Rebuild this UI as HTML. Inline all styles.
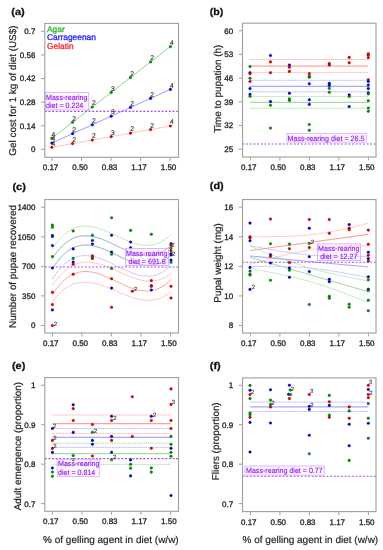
<!DOCTYPE html><html><head><meta charset="utf-8"><style>html,body{margin:0;padding:0;background:#fff;}svg{display:block;will-change:transform;text-rendering:geometricPrecision;}</style></head><body>
<svg width="383" height="550" viewBox="0 0 383 550" font-family='"Liberation Sans", sans-serif'>
<rect width="383" height="550" fill="#fff"/>
<line x1="51.90" y1="138.30" x2="170.40" y2="46.60" stroke="#80d480" stroke-width="0.90"/>
<line x1="51.90" y1="143.00" x2="170.40" y2="89.40" stroke="#9292ff" stroke-width="0.90"/>
<line x1="51.90" y1="147.30" x2="170.40" y2="126.00" stroke="#ff9292" stroke-width="0.90" stroke-dasharray="1.0,0.6"/>
<line x1="44.80" y1="111.40" x2="178.50" y2="111.40" stroke="#a845f2" stroke-width="1.10" stroke-dasharray="1.9,1.75"/>
<circle cx="51.90" cy="138.30" r="1.32" fill="#009400" stroke="#004a00" stroke-width="0.35"/>
<circle cx="72.60" cy="122.28" r="1.32" fill="#009400" stroke="#004a00" stroke-width="0.35"/>
<circle cx="92.30" cy="107.04" r="1.32" fill="#009400" stroke="#004a00" stroke-width="0.35"/>
<circle cx="111.20" cy="92.41" r="1.32" fill="#009400" stroke="#004a00" stroke-width="0.35"/>
<circle cx="130.50" cy="77.48" r="1.32" fill="#009400" stroke="#004a00" stroke-width="0.35"/>
<circle cx="150.60" cy="61.92" r="1.32" fill="#009400" stroke="#004a00" stroke-width="0.35"/>
<circle cx="170.40" cy="46.60" r="1.32" fill="#009400" stroke="#004a00" stroke-width="0.35"/>
<circle cx="51.90" cy="143.00" r="1.32" fill="#0000e8" stroke="#00006a" stroke-width="0.35"/>
<circle cx="72.60" cy="133.64" r="1.32" fill="#0000e8" stroke="#00006a" stroke-width="0.35"/>
<circle cx="92.30" cy="124.73" r="1.32" fill="#0000e8" stroke="#00006a" stroke-width="0.35"/>
<circle cx="111.20" cy="116.18" r="1.32" fill="#0000e8" stroke="#00006a" stroke-width="0.35"/>
<circle cx="130.50" cy="107.45" r="1.32" fill="#0000e8" stroke="#00006a" stroke-width="0.35"/>
<circle cx="150.60" cy="98.36" r="1.32" fill="#0000e8" stroke="#00006a" stroke-width="0.35"/>
<circle cx="170.40" cy="89.40" r="1.32" fill="#0000e8" stroke="#00006a" stroke-width="0.35"/>
<circle cx="51.90" cy="147.30" r="1.32" fill="#e60000" stroke="#6a0000" stroke-width="0.35"/>
<circle cx="72.60" cy="143.58" r="1.32" fill="#e60000" stroke="#6a0000" stroke-width="0.35"/>
<circle cx="92.30" cy="140.04" r="1.32" fill="#e60000" stroke="#6a0000" stroke-width="0.35"/>
<circle cx="111.20" cy="136.64" r="1.32" fill="#e60000" stroke="#6a0000" stroke-width="0.35"/>
<circle cx="130.50" cy="133.17" r="1.32" fill="#e60000" stroke="#6a0000" stroke-width="0.35"/>
<circle cx="150.60" cy="129.56" r="1.32" fill="#e60000" stroke="#6a0000" stroke-width="0.35"/>
<circle cx="170.40" cy="126.00" r="1.32" fill="#e60000" stroke="#6a0000" stroke-width="0.35"/>
<text x="53.50" y="136.60" font-size="6.8" text-anchor="middle" fill="#2e2e2e" stroke="#2e2e2e" stroke-width="0.12">4</text>
<text x="74.20" y="120.58" font-size="6.8" text-anchor="middle" fill="#2e2e2e" stroke="#2e2e2e" stroke-width="0.12">2</text>
<text x="93.90" y="105.34" font-size="6.8" text-anchor="middle" fill="#2e2e2e" stroke="#2e2e2e" stroke-width="0.12">2</text>
<text x="112.80" y="90.71" font-size="6.8" text-anchor="middle" fill="#2e2e2e" stroke="#2e2e2e" stroke-width="0.12">3</text>
<text x="132.10" y="75.78" font-size="6.8" text-anchor="middle" fill="#2e2e2e" stroke="#2e2e2e" stroke-width="0.12">2</text>
<text x="152.20" y="60.22" font-size="6.8" text-anchor="middle" fill="#2e2e2e" stroke="#2e2e2e" stroke-width="0.12">2</text>
<text x="172.00" y="44.90" font-size="6.8" text-anchor="middle" fill="#2e2e2e" stroke="#2e2e2e" stroke-width="0.12">4</text>
<text x="53.50" y="141.30" font-size="6.8" text-anchor="middle" fill="#2e2e2e" stroke="#2e2e2e" stroke-width="0.12">4</text>
<text x="74.20" y="131.94" font-size="6.8" text-anchor="middle" fill="#2e2e2e" stroke="#2e2e2e" stroke-width="0.12">2</text>
<text x="93.90" y="123.03" font-size="6.8" text-anchor="middle" fill="#2e2e2e" stroke="#2e2e2e" stroke-width="0.12">2</text>
<text x="112.80" y="114.48" font-size="6.8" text-anchor="middle" fill="#2e2e2e" stroke="#2e2e2e" stroke-width="0.12">3</text>
<text x="132.10" y="105.75" font-size="6.8" text-anchor="middle" fill="#2e2e2e" stroke="#2e2e2e" stroke-width="0.12">2</text>
<text x="152.20" y="96.66" font-size="6.8" text-anchor="middle" fill="#2e2e2e" stroke="#2e2e2e" stroke-width="0.12">2</text>
<text x="172.00" y="87.70" font-size="6.8" text-anchor="middle" fill="#2e2e2e" stroke="#2e2e2e" stroke-width="0.12">4</text>
<text x="53.50" y="145.60" font-size="6.8" text-anchor="middle" fill="#2e2e2e" stroke="#2e2e2e" stroke-width="0.12">4</text>
<text x="74.20" y="141.88" font-size="6.8" text-anchor="middle" fill="#2e2e2e" stroke="#2e2e2e" stroke-width="0.12">2</text>
<text x="93.90" y="138.34" font-size="6.8" text-anchor="middle" fill="#2e2e2e" stroke="#2e2e2e" stroke-width="0.12">2</text>
<text x="112.80" y="134.94" font-size="6.8" text-anchor="middle" fill="#2e2e2e" stroke="#2e2e2e" stroke-width="0.12">3</text>
<text x="132.10" y="131.47" font-size="6.8" text-anchor="middle" fill="#2e2e2e" stroke="#2e2e2e" stroke-width="0.12">2</text>
<text x="152.20" y="127.86" font-size="6.8" text-anchor="middle" fill="#2e2e2e" stroke="#2e2e2e" stroke-width="0.12">2</text>
<text x="172.00" y="124.30" font-size="6.8" text-anchor="middle" fill="#2e2e2e" stroke="#2e2e2e" stroke-width="0.12">4</text>
<rect x="45.3" y="92.4" width="43.4" height="17.5" fill="#f2e2ff" fill-opacity="0.25" stroke="#d4a8ff" stroke-width="0.8"/>
<text x="46.0" y="99.7" font-size="7.6" text-anchor="start" fill="#a020f0" stroke="#a020f0" stroke-width="0.18" textLength="41.43" lengthAdjust="spacingAndGlyphs">Mass-rearing</text>
<text x="46.0" y="108.3" font-size="7.6" text-anchor="start" fill="#a020f0" stroke="#a020f0" stroke-width="0.18" textLength="37.30" lengthAdjust="spacingAndGlyphs">diet = 0.224</text>
<text x="47.0" y="31.9" font-size="8.4" fill="#2fb52f" stroke="#2fb52f" stroke-width="0.3">Agar</text>
<text x="47.0" y="40.3" font-size="8.4" fill="#2424f4" stroke="#2424f4" stroke-width="0.3">Carrageenan</text>
<text x="47.0" y="48.8" font-size="8.4" fill="#f42c2c" stroke="#f42c2c" stroke-width="0.3">Gelatin</text>
<line x1="250.00" y1="59.50" x2="368.30" y2="59.50" stroke="#ffa8a8" stroke-width="0.90" stroke-dasharray="1.2,0.6"/>
<line x1="250.00" y1="66.10" x2="368.30" y2="66.10" stroke="#ffa2a2" stroke-width="1.25"/>
<line x1="250.00" y1="72.40" x2="368.30" y2="72.40" stroke="#ffa8a8" stroke-width="0.90" stroke-dasharray="1.2,0.6"/>
<line x1="250.00" y1="80.30" x2="368.30" y2="80.30" stroke="#acacff" stroke-width="0.90" stroke-dasharray="1.2,0.6"/>
<line x1="250.00" y1="86.30" x2="368.30" y2="86.30" stroke="#a8a8ff" stroke-width="1.25"/>
<line x1="250.00" y1="91.80" x2="368.30" y2="91.80" stroke="#acacff" stroke-width="0.90" stroke-dasharray="1.2,0.6"/>
<line x1="250.00" y1="96.40" x2="368.30" y2="96.40" stroke="#9fdc9f" stroke-width="0.90" stroke-dasharray="1.2,0.6"/>
<line x1="250.00" y1="102.30" x2="368.30" y2="102.30" stroke="#a2dda2" stroke-width="1.25"/>
<line x1="250.00" y1="108.30" x2="368.30" y2="108.30" stroke="#9fdc9f" stroke-width="0.90" stroke-dasharray="1.2,0.6"/>
<line x1="242.50" y1="144.00" x2="376.00" y2="144.00" stroke="#a845f2" stroke-width="1.10" stroke-dasharray="1.9,1.75"/>
<circle cx="250.00" cy="66.50" r="1.32" fill="#009400" stroke="#004a00" stroke-width="0.35"/>
<circle cx="250.00" cy="72.70" r="1.32" fill="#0000e8" stroke="#00006a" stroke-width="0.35"/>
<circle cx="250.00" cy="73.80" r="1.32" fill="#e60000" stroke="#6a0000" stroke-width="0.35"/>
<circle cx="250.00" cy="78.20" r="1.32" fill="#009400" stroke="#004a00" stroke-width="0.35"/>
<circle cx="250.00" cy="81.50" r="1.32" fill="#e60000" stroke="#6a0000" stroke-width="0.35"/>
<circle cx="250.00" cy="88.60" r="1.32" fill="#0000e8" stroke="#00006a" stroke-width="0.35"/>
<circle cx="250.00" cy="94.40" r="1.32" fill="#0000e8" stroke="#00006a" stroke-width="0.35"/>
<circle cx="250.00" cy="96.30" r="1.32" fill="#009400" stroke="#004a00" stroke-width="0.35"/>
<circle cx="270.50" cy="55.50" r="1.32" fill="#0000e8" stroke="#00006a" stroke-width="0.35"/>
<circle cx="270.50" cy="61.90" r="1.32" fill="#e60000" stroke="#6a0000" stroke-width="0.35"/>
<circle cx="270.50" cy="72.70" r="1.32" fill="#e60000" stroke="#6a0000" stroke-width="0.35"/>
<circle cx="270.50" cy="101.60" r="1.32" fill="#0000e8" stroke="#00006a" stroke-width="0.35"/>
<circle cx="270.50" cy="105.30" r="1.32" fill="#009400" stroke="#004a00" stroke-width="0.35"/>
<circle cx="270.50" cy="128.10" r="1.32" fill="#009400" stroke="#004a00" stroke-width="0.35"/>
<circle cx="289.40" cy="65.00" r="1.32" fill="#0000e8" stroke="#00006a" stroke-width="0.35"/>
<circle cx="289.40" cy="67.20" r="1.32" fill="#e60000" stroke="#6a0000" stroke-width="0.35"/>
<circle cx="289.40" cy="71.40" r="1.32" fill="#e60000" stroke="#6a0000" stroke-width="0.35"/>
<circle cx="289.40" cy="93.30" r="1.32" fill="#0000e8" stroke="#00006a" stroke-width="0.35"/>
<circle cx="289.40" cy="98.90" r="1.32" fill="#009400" stroke="#004a00" stroke-width="0.35"/>
<circle cx="289.40" cy="100.40" r="1.32" fill="#009400" stroke="#004a00" stroke-width="0.35"/>
<circle cx="309.30" cy="73.60" r="1.32" fill="#e60000" stroke="#6a0000" stroke-width="0.35"/>
<circle cx="309.30" cy="76.40" r="1.32" fill="#e60000" stroke="#6a0000" stroke-width="0.35"/>
<circle cx="309.30" cy="77.30" r="1.32" fill="#009400" stroke="#004a00" stroke-width="0.35"/>
<circle cx="309.30" cy="83.70" r="1.32" fill="#0000e8" stroke="#00006a" stroke-width="0.35"/>
<circle cx="309.30" cy="99.80" r="1.32" fill="#0000e8" stroke="#00006a" stroke-width="0.35"/>
<circle cx="309.30" cy="104.40" r="1.32" fill="#0000e8" stroke="#00006a" stroke-width="0.35"/>
<circle cx="309.30" cy="124.50" r="1.32" fill="#009400" stroke="#004a00" stroke-width="0.35"/>
<circle cx="309.30" cy="130.30" r="1.32" fill="#009400" stroke="#004a00" stroke-width="0.35"/>
<circle cx="329.30" cy="63.60" r="1.32" fill="#e60000" stroke="#6a0000" stroke-width="0.35"/>
<circle cx="329.30" cy="64.90" r="1.32" fill="#e60000" stroke="#6a0000" stroke-width="0.35"/>
<circle cx="329.30" cy="83.30" r="1.32" fill="#0000e8" stroke="#00006a" stroke-width="0.35"/>
<circle cx="329.30" cy="85.30" r="1.32" fill="#0000e8" stroke="#00006a" stroke-width="0.35"/>
<circle cx="329.30" cy="88.40" r="1.32" fill="#009400" stroke="#004a00" stroke-width="0.35"/>
<circle cx="329.30" cy="92.30" r="1.32" fill="#009400" stroke="#004a00" stroke-width="0.35"/>
<circle cx="349.20" cy="57.40" r="1.32" fill="#e60000" stroke="#6a0000" stroke-width="0.35"/>
<circle cx="349.20" cy="62.80" r="1.32" fill="#e60000" stroke="#6a0000" stroke-width="0.35"/>
<circle cx="349.20" cy="94.90" r="1.32" fill="#0000e8" stroke="#00006a" stroke-width="0.35"/>
<circle cx="349.20" cy="96.50" r="1.32" fill="#009400" stroke="#004a00" stroke-width="0.35"/>
<circle cx="349.20" cy="106.60" r="1.32" fill="#0000e8" stroke="#00006a" stroke-width="0.35"/>
<circle cx="368.30" cy="53.70" r="1.32" fill="#e60000" stroke="#6a0000" stroke-width="0.35"/>
<circle cx="368.30" cy="55.20" r="1.32" fill="#e60000" stroke="#6a0000" stroke-width="0.35"/>
<circle cx="368.30" cy="57.70" r="1.32" fill="#e60000" stroke="#6a0000" stroke-width="0.35"/>
<circle cx="368.30" cy="79.70" r="1.32" fill="#e60000" stroke="#6a0000" stroke-width="0.35"/>
<circle cx="368.30" cy="81.50" r="1.32" fill="#0000e8" stroke="#00006a" stroke-width="0.35"/>
<circle cx="368.30" cy="85.10" r="1.32" fill="#0000e8" stroke="#00006a" stroke-width="0.35"/>
<circle cx="368.30" cy="88.60" r="1.32" fill="#0000e8" stroke="#00006a" stroke-width="0.35"/>
<circle cx="368.30" cy="92.80" r="1.32" fill="#0000e8" stroke="#00006a" stroke-width="0.35"/>
<circle cx="368.30" cy="93.90" r="1.32" fill="#009400" stroke="#004a00" stroke-width="0.35"/>
<circle cx="368.30" cy="100.70" r="1.32" fill="#009400" stroke="#004a00" stroke-width="0.35"/>
<circle cx="368.30" cy="108.00" r="1.32" fill="#009400" stroke="#004a00" stroke-width="0.35"/>
<circle cx="368.30" cy="111.30" r="1.32" fill="#009400" stroke="#004a00" stroke-width="0.35"/>
<rect x="287.0" y="133.3" width="79.2" height="8.8" fill="#f2e2ff" fill-opacity="0.25" stroke="#d4a8ff" stroke-width="0.8"/>
<text x="287.6" y="140.6" font-size="7.6" text-anchor="start" fill="#a020f0" stroke="#a020f0" stroke-width="0.18" textLength="76.75" lengthAdjust="spacingAndGlyphs">Mass-rearing diet = 26.5</text>
<polyline fill="none" points="52.40,249.08 55.44,244.58 58.48,240.65 61.52,237.26 64.56,234.37 67.61,231.96 70.65,230.01 73.69,228.47 76.73,227.34 79.77,226.56 82.81,226.13 85.85,226.01 88.89,226.17 91.93,226.59 94.97,227.23 98.02,228.07 101.06,229.08 104.10,230.24 107.14,231.50 110.18,232.85 113.22,234.26 116.26,235.69 119.30,237.13 122.34,238.54 125.38,239.89 128.43,241.16 131.47,242.32 134.51,243.33 137.55,244.18 140.59,244.83 143.63,245.26 146.67,245.43 149.71,245.32 152.75,244.90 155.79,244.15 158.84,243.03 161.88,241.51 164.92,239.57 167.96,237.18 171.00,234.31" stroke="#9fdc9f" stroke-width="0.95" stroke-dasharray="1.2,0.6"/>
<polyline fill="none" points="52.40,258.44 55.44,253.99 58.48,250.11 61.52,246.75 64.56,243.90 67.61,241.53 70.65,239.61 73.69,238.11 76.73,237.00 79.77,236.25 82.81,235.85 85.85,235.75 88.89,235.93 91.93,236.37 94.97,237.04 98.02,237.90 101.06,238.93 104.10,240.10 107.14,241.39 110.18,242.76 113.22,244.19 116.26,245.65 119.30,247.11 122.34,248.54 125.38,249.93 128.43,251.22 131.47,252.41 134.51,253.47 137.55,254.35 140.59,255.04 143.63,255.51 146.67,255.73 149.71,255.67 152.75,255.31 155.79,254.62 158.84,253.56 161.88,252.11 164.92,250.24 167.96,247.93 171.00,245.15" stroke="#a2dda2" stroke-width="1.00"/>
<polyline fill="none" points="52.40,268.64 55.44,264.08 58.48,260.08 61.52,256.63 64.56,253.69 67.61,251.23 70.65,249.23 73.69,247.65 76.73,246.48 79.77,245.67 82.81,245.21 85.85,245.07 88.89,245.21 91.93,245.61 94.97,246.25 98.02,247.09 101.06,248.10 104.10,249.26 107.14,250.54 110.18,251.92 113.22,253.35 116.26,254.82 119.30,256.30 122.34,257.76 125.38,259.17 128.43,260.50 131.47,261.73 134.51,262.83 137.55,263.76 140.59,264.51 143.63,265.04 146.67,265.32 149.71,265.33 152.75,265.05 155.79,264.43 158.84,263.45 161.88,262.09 164.92,260.32 167.96,258.11 171.00,255.43" stroke="#a8a8ff" stroke-width="1.00"/>
<polyline fill="none" points="52.40,279.11 55.44,274.51 58.48,270.49 61.52,267.01 64.56,264.06 67.61,261.60 70.65,259.61 73.69,258.04 76.73,256.89 79.77,256.11 82.81,255.68 85.85,255.57 88.89,255.76 91.93,256.20 94.97,256.88 98.02,257.76 101.06,258.82 104.10,260.02 107.14,261.34 110.18,262.75 113.22,264.23 116.26,265.73 119.30,267.24 122.34,268.72 125.38,270.15 128.43,271.49 131.47,272.72 134.51,273.81 137.55,274.73 140.59,275.45 143.63,275.95 146.67,276.18 149.71,276.14 152.75,275.77 155.79,275.07 158.84,274.00 161.88,272.52 164.92,270.62 167.96,268.25 171.00,265.41" stroke="#acacff" stroke-width="0.95" stroke-dasharray="1.2,0.6"/>
<polyline fill="none" points="52.40,285.46 55.44,281.07 58.48,277.22 61.52,273.87 64.56,270.99 67.61,268.57 70.65,266.58 73.69,264.99 76.73,263.78 79.77,262.92 82.81,262.38 85.85,262.14 88.89,262.18 91.93,262.46 94.97,262.97 98.02,263.68 101.06,264.56 104.10,265.58 107.14,266.73 110.18,267.97 113.22,269.28 116.26,270.64 119.30,272.02 122.34,273.39 125.38,274.73 128.43,276.01 131.47,277.20 134.51,278.29 137.55,279.25 140.59,280.04 143.63,280.65 146.67,281.05 149.71,281.21 152.75,281.11 155.79,280.73 158.84,280.03 161.88,278.99 164.92,277.59 167.96,275.80 171.00,273.59" stroke="#ffa8a8" stroke-width="0.95" stroke-dasharray="1.2,0.6"/>
<polyline fill="none" points="52.40,294.68 55.44,290.14 58.48,286.16 61.52,282.74 64.56,279.82 67.61,277.40 70.65,275.43 73.69,273.90 76.73,272.76 79.77,272.00 82.81,271.57 85.85,271.47 88.89,271.65 91.93,272.08 94.97,272.75 98.02,273.61 101.06,274.65 104.10,275.82 107.14,277.11 110.18,278.49 113.22,279.91 116.26,281.37 119.30,282.82 122.34,284.24 125.38,285.61 128.43,286.88 131.47,288.04 134.51,289.05 137.55,289.88 140.59,290.51 143.63,290.91 146.67,291.05 149.71,290.90 152.75,290.42 155.79,289.61 158.84,288.41 161.88,286.81 164.92,284.77 167.96,282.28 171.00,279.29" stroke="#ffa2a2" stroke-width="1.00"/>
<polyline fill="none" points="52.40,301.53 55.44,297.70 58.48,294.36 61.52,291.48 64.56,289.04 67.61,287.01 70.65,285.37 73.69,284.10 76.73,283.17 79.77,282.56 82.81,282.24 85.85,282.19 88.89,282.38 91.93,282.80 94.97,283.41 98.02,284.19 101.06,285.12 104.10,286.17 107.14,287.33 110.18,288.55 113.22,289.83 116.26,291.14 119.30,292.44 122.34,293.73 125.38,294.97 128.43,296.14 131.47,297.21 134.51,298.16 137.55,298.97 140.59,299.62 143.63,300.07 146.67,300.31 149.71,300.30 152.75,300.03 155.79,299.48 158.84,298.61 161.88,297.40 164.92,295.83 167.96,293.88 171.00,291.51" stroke="#ffa8a8" stroke-width="0.95" stroke-dasharray="1.2,0.6"/>
<polyline fill="none" points="52.40,258.44 55.44,253.99 58.48,250.11 61.52,246.75 64.56,243.90 67.61,241.53 70.65,239.61 73.69,238.11 76.73,237.00 79.77,236.25 82.81,235.85 85.85,235.75 88.89,235.93 91.93,236.37 94.97,237.04 98.02,237.90 101.06,238.93 104.10,240.10 107.14,241.39 110.18,242.76 113.22,244.19 116.26,245.65 119.30,247.11 122.34,248.54 125.38,249.93 128.43,251.22 131.47,252.41 134.51,253.47 137.55,254.35 140.59,255.04 143.63,255.51 146.67,255.73 149.71,255.67 152.75,255.31 155.79,254.62 158.84,253.56 161.88,252.11 164.92,250.24 167.96,247.93 171.00,245.15" stroke="#acacff" stroke-width="0.90" stroke-dasharray="1.2,0.6"/>
<polyline fill="none" points="52.40,268.64 55.44,264.08 58.48,260.08 61.52,256.63 64.56,253.69 67.61,251.23 70.65,249.23 73.69,247.65 76.73,246.48 79.77,245.67 82.81,245.21 85.85,245.07 88.89,245.21 91.93,245.61 94.97,246.25 98.02,247.09 101.06,248.10 104.10,249.26 107.14,250.54 110.18,251.92 113.22,253.35 116.26,254.82 119.30,256.30 122.34,257.76 125.38,259.17 128.43,260.50 131.47,261.73 134.51,262.83 137.55,263.76 140.59,264.51 143.63,265.04 146.67,265.32 149.71,265.33 152.75,265.05 155.79,264.43 158.84,263.45 161.88,262.09 164.92,260.32 167.96,258.11 171.00,255.43" stroke="#9fdc9f" stroke-width="0.90" stroke-dasharray="1.2,0.6"/>
<line x1="44.80" y1="267.00" x2="178.50" y2="267.00" stroke="#a845f2" stroke-width="1.10" stroke-dasharray="1.9,1.75"/>
<circle cx="52.40" cy="225.10" r="1.32" fill="#009400" stroke="#004a00" stroke-width="0.35"/>
<circle cx="52.40" cy="227.30" r="1.32" fill="#009400" stroke="#004a00" stroke-width="0.35"/>
<circle cx="52.40" cy="235.20" r="1.32" fill="#009400" stroke="#004a00" stroke-width="0.35"/>
<circle cx="52.40" cy="236.50" r="1.32" fill="#0000e8" stroke="#00006a" stroke-width="0.35"/>
<circle cx="52.40" cy="245.60" r="1.32" fill="#0000e8" stroke="#00006a" stroke-width="0.35"/>
<circle cx="52.40" cy="256.60" r="1.32" fill="#009400" stroke="#004a00" stroke-width="0.35"/>
<circle cx="52.40" cy="268.00" r="1.32" fill="#0000e8" stroke="#00006a" stroke-width="0.35"/>
<circle cx="52.40" cy="292.20" r="1.32" fill="#e60000" stroke="#6a0000" stroke-width="0.35"/>
<circle cx="52.40" cy="304.60" r="1.32" fill="#e60000" stroke="#6a0000" stroke-width="0.35"/>
<circle cx="52.40" cy="309.90" r="1.32" fill="#0000e8" stroke="#00006a" stroke-width="0.35"/>
<circle cx="52.40" cy="325.60" r="1.32" fill="#e60000" stroke="#6a0000" stroke-width="0.35"/>
<circle cx="73.20" cy="231.00" r="1.32" fill="#009400" stroke="#004a00" stroke-width="0.35"/>
<circle cx="73.20" cy="248.90" r="1.32" fill="#0000e8" stroke="#00006a" stroke-width="0.35"/>
<circle cx="73.20" cy="258.40" r="1.32" fill="#009400" stroke="#004a00" stroke-width="0.35"/>
<circle cx="73.20" cy="262.10" r="1.32" fill="#0000e8" stroke="#00006a" stroke-width="0.35"/>
<circle cx="73.20" cy="264.20" r="1.32" fill="#e60000" stroke="#6a0000" stroke-width="0.35"/>
<circle cx="73.20" cy="274.20" r="1.32" fill="#e60000" stroke="#6a0000" stroke-width="0.35"/>
<circle cx="92.40" cy="235.20" r="1.32" fill="#009400" stroke="#004a00" stroke-width="0.35"/>
<circle cx="92.40" cy="240.50" r="1.32" fill="#0000e8" stroke="#00006a" stroke-width="0.35"/>
<circle cx="92.40" cy="244.10" r="1.32" fill="#0000e8" stroke="#00006a" stroke-width="0.35"/>
<circle cx="92.40" cy="255.90" r="1.32" fill="#e60000" stroke="#6a0000" stroke-width="0.35"/>
<circle cx="92.40" cy="257.10" r="1.32" fill="#009400" stroke="#004a00" stroke-width="0.35"/>
<circle cx="92.40" cy="258.60" r="1.32" fill="#e60000" stroke="#6a0000" stroke-width="0.35"/>
<circle cx="111.60" cy="217.80" r="1.32" fill="#009400" stroke="#004a00" stroke-width="0.35"/>
<circle cx="111.60" cy="235.20" r="1.32" fill="#0000e8" stroke="#00006a" stroke-width="0.35"/>
<circle cx="111.60" cy="252.00" r="1.32" fill="#0000e8" stroke="#00006a" stroke-width="0.35"/>
<circle cx="111.60" cy="254.20" r="1.32" fill="#009400" stroke="#004a00" stroke-width="0.35"/>
<circle cx="111.60" cy="268.40" r="1.32" fill="#009400" stroke="#004a00" stroke-width="0.35"/>
<circle cx="111.60" cy="278.80" r="1.32" fill="#e60000" stroke="#6a0000" stroke-width="0.35"/>
<circle cx="111.60" cy="288.10" r="1.32" fill="#0000e8" stroke="#00006a" stroke-width="0.35"/>
<circle cx="111.60" cy="307.30" r="1.32" fill="#e60000" stroke="#6a0000" stroke-width="0.35"/>
<circle cx="130.60" cy="230.40" r="1.32" fill="#009400" stroke="#004a00" stroke-width="0.35"/>
<circle cx="130.60" cy="242.00" r="1.32" fill="#0000e8" stroke="#00006a" stroke-width="0.35"/>
<circle cx="130.60" cy="247.80" r="1.32" fill="#0000e8" stroke="#00006a" stroke-width="0.35"/>
<circle cx="132.30" cy="291.20" r="1.32" fill="#e60000" stroke="#6a0000" stroke-width="0.35"/>
<circle cx="151.30" cy="234.30" r="1.32" fill="#009400" stroke="#004a00" stroke-width="0.35"/>
<circle cx="151.30" cy="280.60" r="1.32" fill="#e60000" stroke="#6a0000" stroke-width="0.35"/>
<circle cx="151.30" cy="285.80" r="1.32" fill="#0000e8" stroke="#00006a" stroke-width="0.35"/>
<circle cx="151.30" cy="286.30" r="1.32" fill="#e60000" stroke="#6a0000" stroke-width="0.35"/>
<circle cx="151.30" cy="290.00" r="1.32" fill="#0000e8" stroke="#00006a" stroke-width="0.35"/>
<circle cx="171.00" cy="243.70" r="1.32" fill="#0000e8" stroke="#00006a" stroke-width="0.35"/>
<circle cx="171.00" cy="245.00" r="1.32" fill="#e60000" stroke="#6a0000" stroke-width="0.35"/>
<circle cx="171.00" cy="248.10" r="1.32" fill="#009400" stroke="#004a00" stroke-width="0.35"/>
<circle cx="171.00" cy="250.70" r="1.32" fill="#e60000" stroke="#6a0000" stroke-width="0.35"/>
<circle cx="171.00" cy="253.80" r="1.32" fill="#0000e8" stroke="#00006a" stroke-width="0.35"/>
<circle cx="171.00" cy="254.90" r="1.32" fill="#0000e8" stroke="#00006a" stroke-width="0.35"/>
<circle cx="171.00" cy="260.10" r="1.32" fill="#0000e8" stroke="#00006a" stroke-width="0.35"/>
<circle cx="171.00" cy="262.30" r="1.32" fill="#009400" stroke="#004a00" stroke-width="0.35"/>
<circle cx="171.00" cy="286.30" r="1.32" fill="#e60000" stroke="#6a0000" stroke-width="0.35"/>
<circle cx="171.00" cy="298.00" r="1.32" fill="#e60000" stroke="#6a0000" stroke-width="0.35"/>
<rect x="125.4" y="248.4" width="43.1" height="17.0" fill="#f2e2ff" fill-opacity="0.25" stroke="#d4a8ff" stroke-width="0.8"/>
<text x="146.8" y="256.0" font-size="7.6" text-anchor="middle" fill="#a020f0" stroke="#a020f0" stroke-width="0.18" textLength="41.43" lengthAdjust="spacingAndGlyphs">Mass-rearing</text>
<text x="147.1" y="263.8" font-size="7.6" text-anchor="middle" fill="#a020f0" stroke="#a020f0" stroke-width="0.18" textLength="37.30" lengthAdjust="spacingAndGlyphs">diet = 691.6</text>
<line x1="250.00" y1="250.50" x2="368.30" y2="234.40" stroke="#ffa2a2" stroke-width="1.10"/>
<polyline fill="none" points="250.00,236.70 254.08,236.73 258.16,236.74 262.24,236.75 266.32,236.73 270.40,236.70 274.48,236.65 278.56,236.58 282.63,236.48 286.71,236.35 290.79,236.19 294.87,235.99 298.95,235.74 303.03,235.44 307.11,235.09 311.19,234.67 315.27,234.20 319.35,233.66 323.43,233.05 327.51,232.39 331.59,231.65 335.67,230.87 339.74,230.03 343.82,229.14 347.90,228.21 351.98,227.25 356.06,226.25 360.14,225.22 364.22,224.17 368.30,223.10" stroke="#ffa8a8" stroke-width="0.90" stroke-dasharray="1.2,0.6"/>
<polyline fill="none" points="250.00,264.30 254.08,263.16 258.16,262.04 262.24,260.92 266.32,259.83 270.40,258.75 274.48,257.68 278.56,256.65 282.63,255.64 286.71,254.65 290.79,253.71 294.87,252.80 298.95,251.94 303.03,251.13 307.11,250.37 311.19,249.67 315.27,249.03 319.35,248.46 323.43,247.96 327.51,247.52 331.59,247.14 335.67,246.82 339.74,246.54 343.82,246.32 347.90,246.14 351.98,246.00 356.06,245.88 360.14,245.80 364.22,245.74 368.30,245.70" stroke="#ffa8a8" stroke-width="0.90" stroke-dasharray="1.2,0.6"/>
<line x1="250.00" y1="256.00" x2="368.30" y2="267.00" stroke="#a8a8ff" stroke-width="1.10"/>
<polyline fill="none" points="250.00,245.50 254.08,246.33 258.16,247.14 262.24,247.94 266.32,248.71 270.40,249.47 274.48,250.21 278.56,250.91 282.63,251.59 286.71,252.23 290.79,252.84 294.87,253.40 298.95,253.92 303.03,254.39 307.11,254.81 311.19,255.18 315.27,255.49 319.35,255.76 323.43,255.98 327.51,256.16 331.59,256.30 335.67,256.40 339.74,256.46 343.82,256.50 347.90,256.52 351.98,256.51 356.06,256.48 360.14,256.43 364.22,256.37 368.30,256.30" stroke="#acacff" stroke-width="0.90" stroke-dasharray="1.2,0.6"/>
<polyline fill="none" points="250.00,266.50 254.08,266.43 258.16,266.38 262.24,266.34 266.32,266.32 270.40,266.32 274.48,266.35 278.56,266.40 282.63,266.48 286.71,266.59 290.79,266.75 294.87,266.94 298.95,267.18 303.03,267.47 307.11,267.81 311.19,268.20 315.27,268.64 319.35,269.14 323.43,269.67 327.51,270.26 331.59,270.88 335.67,271.54 339.74,272.23 343.82,272.95 347.90,273.69 351.98,274.46 356.06,275.25 360.14,276.05 364.22,276.87 368.30,277.70" stroke="#acacff" stroke-width="0.90" stroke-dasharray="1.2,0.6"/>
<line x1="250.00" y1="257.30" x2="368.30" y2="291.80" stroke="#a2dda2" stroke-width="1.10"/>
<polyline fill="none" points="250.00,246.10 254.08,247.76 258.16,249.40 262.24,251.03 266.32,252.64 270.40,254.23 274.48,255.80 278.56,257.35 282.63,258.86 286.71,260.34 290.79,261.79 294.87,263.19 298.95,264.56 303.03,265.87 307.11,267.13 311.19,268.34 315.27,269.50 319.35,270.61 323.43,271.67 327.51,272.68 331.59,273.65 335.67,274.58 339.74,275.47 343.82,276.33 347.90,277.16 351.98,277.97 356.06,278.75 360.14,279.52 364.22,280.27 368.30,281.00" stroke="#9fdc9f" stroke-width="0.90" stroke-dasharray="1.2,0.6"/>
<polyline fill="none" points="250.00,268.50 254.08,269.22 258.16,269.96 262.24,270.71 266.32,271.48 270.40,272.26 274.48,273.07 278.56,273.91 282.63,274.77 286.71,275.67 290.79,276.60 294.87,277.58 298.95,278.60 303.03,279.66 307.11,280.78 311.19,281.94 315.27,283.16 319.35,284.44 323.43,285.76 327.51,287.12 331.59,288.54 335.67,289.99 339.74,291.47 343.82,292.99 347.90,294.54 351.98,296.11 356.06,297.71 360.14,299.32 364.22,300.95 368.30,302.60" stroke="#9fdc9f" stroke-width="0.90" stroke-dasharray="1.2,0.6"/>
<line x1="242.50" y1="262.20" x2="376.00" y2="262.20" stroke="#a845f2" stroke-width="1.10" stroke-dasharray="1.9,1.75"/>
<circle cx="250.00" cy="223.10" r="1.32" fill="#0000e8" stroke="#00006a" stroke-width="0.35"/>
<circle cx="250.00" cy="236.80" r="1.32" fill="#e60000" stroke="#6a0000" stroke-width="0.35"/>
<circle cx="250.00" cy="237.90" r="1.32" fill="#e60000" stroke="#6a0000" stroke-width="0.35"/>
<circle cx="250.00" cy="240.70" r="1.32" fill="#0000e8" stroke="#00006a" stroke-width="0.35"/>
<circle cx="250.00" cy="267.40" r="1.32" fill="#0000e8" stroke="#00006a" stroke-width="0.35"/>
<circle cx="250.00" cy="271.10" r="1.32" fill="#009400" stroke="#004a00" stroke-width="0.35"/>
<circle cx="250.00" cy="274.20" r="1.32" fill="#009400" stroke="#004a00" stroke-width="0.35"/>
<circle cx="250.00" cy="275.10" r="1.32" fill="#009400" stroke="#004a00" stroke-width="0.35"/>
<circle cx="250.00" cy="289.40" r="1.32" fill="#0000e8" stroke="#00006a" stroke-width="0.35"/>
<circle cx="270.50" cy="219.10" r="1.32" fill="#e60000" stroke="#6a0000" stroke-width="0.35"/>
<circle cx="270.50" cy="243.80" r="1.32" fill="#009400" stroke="#004a00" stroke-width="0.35"/>
<circle cx="270.50" cy="254.70" r="1.32" fill="#0000e8" stroke="#00006a" stroke-width="0.35"/>
<circle cx="270.50" cy="256.20" r="1.32" fill="#e60000" stroke="#6a0000" stroke-width="0.35"/>
<circle cx="270.50" cy="263.00" r="1.32" fill="#0000e8" stroke="#00006a" stroke-width="0.35"/>
<circle cx="270.50" cy="280.20" r="1.32" fill="#009400" stroke="#004a00" stroke-width="0.35"/>
<circle cx="289.40" cy="244.10" r="1.32" fill="#009400" stroke="#004a00" stroke-width="0.35"/>
<circle cx="289.40" cy="248.70" r="1.32" fill="#e60000" stroke="#6a0000" stroke-width="0.35"/>
<circle cx="289.40" cy="262.60" r="1.32" fill="#e60000" stroke="#6a0000" stroke-width="0.35"/>
<circle cx="289.40" cy="268.10" r="1.32" fill="#0000e8" stroke="#00006a" stroke-width="0.35"/>
<circle cx="289.40" cy="270.20" r="1.32" fill="#009400" stroke="#004a00" stroke-width="0.35"/>
<circle cx="289.40" cy="277.30" r="1.32" fill="#0000e8" stroke="#00006a" stroke-width="0.35"/>
<circle cx="309.30" cy="219.50" r="1.32" fill="#e60000" stroke="#6a0000" stroke-width="0.35"/>
<circle cx="309.30" cy="228.20" r="1.32" fill="#0000e8" stroke="#00006a" stroke-width="0.35"/>
<circle cx="309.30" cy="243.50" r="1.32" fill="#009400" stroke="#004a00" stroke-width="0.35"/>
<circle cx="309.30" cy="247.60" r="1.32" fill="#e60000" stroke="#6a0000" stroke-width="0.35"/>
<circle cx="309.30" cy="256.70" r="1.32" fill="#0000e8" stroke="#00006a" stroke-width="0.35"/>
<circle cx="309.30" cy="271.60" r="1.32" fill="#0000e8" stroke="#00006a" stroke-width="0.35"/>
<circle cx="309.30" cy="304.50" r="1.32" fill="#009400" stroke="#004a00" stroke-width="0.35"/>
<circle cx="329.30" cy="219.50" r="1.32" fill="#e60000" stroke="#6a0000" stroke-width="0.35"/>
<circle cx="329.30" cy="233.20" r="1.32" fill="#e60000" stroke="#6a0000" stroke-width="0.35"/>
<circle cx="329.30" cy="279.30" r="1.32" fill="#0000e8" stroke="#00006a" stroke-width="0.35"/>
<circle cx="329.30" cy="281.80" r="1.32" fill="#0000e8" stroke="#00006a" stroke-width="0.35"/>
<circle cx="329.30" cy="296.20" r="1.32" fill="#009400" stroke="#004a00" stroke-width="0.35"/>
<circle cx="329.30" cy="298.30" r="1.32" fill="#009400" stroke="#004a00" stroke-width="0.35"/>
<circle cx="349.20" cy="224.60" r="1.32" fill="#0000e8" stroke="#00006a" stroke-width="0.35"/>
<circle cx="349.20" cy="228.20" r="1.32" fill="#e60000" stroke="#6a0000" stroke-width="0.35"/>
<circle cx="349.20" cy="229.70" r="1.32" fill="#e60000" stroke="#6a0000" stroke-width="0.35"/>
<circle cx="349.20" cy="304.20" r="1.32" fill="#009400" stroke="#004a00" stroke-width="0.35"/>
<circle cx="349.20" cy="307.20" r="1.32" fill="#009400" stroke="#004a00" stroke-width="0.35"/>
<circle cx="368.30" cy="230.10" r="1.32" fill="#e60000" stroke="#6a0000" stroke-width="0.35"/>
<circle cx="368.30" cy="244.30" r="1.32" fill="#e60000" stroke="#6a0000" stroke-width="0.35"/>
<circle cx="368.30" cy="252.20" r="1.32" fill="#0000e8" stroke="#00006a" stroke-width="0.35"/>
<circle cx="368.30" cy="255.30" r="1.32" fill="#e60000" stroke="#6a0000" stroke-width="0.35"/>
<circle cx="368.30" cy="258.60" r="1.32" fill="#0000e8" stroke="#00006a" stroke-width="0.35"/>
<circle cx="368.30" cy="261.10" r="1.32" fill="#e60000" stroke="#6a0000" stroke-width="0.35"/>
<circle cx="368.30" cy="276.80" r="1.32" fill="#0000e8" stroke="#00006a" stroke-width="0.35"/>
<circle cx="368.30" cy="279.80" r="1.32" fill="#009400" stroke="#004a00" stroke-width="0.35"/>
<circle cx="368.30" cy="289.20" r="1.32" fill="#0000e8" stroke="#00006a" stroke-width="0.35"/>
<circle cx="368.30" cy="290.50" r="1.32" fill="#009400" stroke="#004a00" stroke-width="0.35"/>
<circle cx="368.30" cy="300.30" r="1.32" fill="#009400" stroke="#004a00" stroke-width="0.35"/>
<circle cx="368.30" cy="310.70" r="1.32" fill="#009400" stroke="#004a00" stroke-width="0.35"/>
<rect x="317.4" y="243.9" width="43.2" height="16.7" fill="#f2e2ff" fill-opacity="0.25" stroke="#d4a8ff" stroke-width="0.8"/>
<text x="338.8" y="251.3" font-size="7.6" text-anchor="middle" fill="#a020f0" stroke="#a020f0" stroke-width="0.18" textLength="41.43" lengthAdjust="spacingAndGlyphs">Mass-rearing</text>
<text x="338.8" y="259.1" font-size="7.6" text-anchor="middle" fill="#a020f0" stroke="#a020f0" stroke-width="0.18" textLength="37.30" lengthAdjust="spacingAndGlyphs">diet = 12.27</text>
<line x1="52.40" y1="415.00" x2="171.00" y2="415.00" stroke="#ffa8a8" stroke-width="0.90" stroke-dasharray="1.2,0.6"/>
<line x1="52.40" y1="423.60" x2="171.00" y2="423.60" stroke="#ffa2a2" stroke-width="1.25"/>
<line x1="52.40" y1="428.60" x2="171.00" y2="428.60" stroke="#acacff" stroke-width="0.90" stroke-dasharray="1.2,0.6"/>
<line x1="52.40" y1="433.40" x2="171.00" y2="433.40" stroke="#ffa8a8" stroke-width="0.90" stroke-dasharray="1.2,0.6"/>
<line x1="52.40" y1="437.40" x2="171.00" y2="437.40" stroke="#a8a8ff" stroke-width="1.25"/>
<line x1="52.40" y1="443.20" x2="171.00" y2="443.20" stroke="#9fdc9f" stroke-width="0.90" stroke-dasharray="1.2,0.6"/>
<line x1="52.40" y1="447.40" x2="171.00" y2="447.40" stroke="#acacff" stroke-width="0.90" stroke-dasharray="1.2,0.6"/>
<line x1="52.40" y1="453.50" x2="171.00" y2="453.50" stroke="#a2dda2" stroke-width="1.25"/>
<line x1="52.40" y1="464.40" x2="171.00" y2="464.40" stroke="#9fdc9f" stroke-width="0.90" stroke-dasharray="1.2,0.6"/>
<line x1="44.80" y1="458.60" x2="178.50" y2="458.60" stroke="#a845f2" stroke-width="1.10" stroke-dasharray="1.9,1.75"/>
<circle cx="52.40" cy="428.50" r="1.32" fill="#0000e8" stroke="#00006a" stroke-width="0.35"/>
<circle cx="52.40" cy="440.40" r="1.32" fill="#e60000" stroke="#6a0000" stroke-width="0.35"/>
<circle cx="52.40" cy="448.40" r="1.32" fill="#e60000" stroke="#6a0000" stroke-width="0.35"/>
<circle cx="52.40" cy="452.40" r="1.32" fill="#0000e8" stroke="#00006a" stroke-width="0.35"/>
<circle cx="52.40" cy="468.00" r="1.32" fill="#0000e8" stroke="#00006a" stroke-width="0.35"/>
<circle cx="52.40" cy="472.00" r="1.32" fill="#009400" stroke="#004a00" stroke-width="0.35"/>
<circle cx="52.40" cy="476.20" r="1.32" fill="#009400" stroke="#004a00" stroke-width="0.35"/>
<circle cx="73.20" cy="404.80" r="1.32" fill="#0000e8" stroke="#00006a" stroke-width="0.35"/>
<circle cx="73.20" cy="408.60" r="1.32" fill="#e60000" stroke="#6a0000" stroke-width="0.35"/>
<circle cx="73.20" cy="420.50" r="1.32" fill="#e60000" stroke="#6a0000" stroke-width="0.35"/>
<circle cx="73.20" cy="432.40" r="1.32" fill="#0000e8" stroke="#00006a" stroke-width="0.35"/>
<circle cx="73.20" cy="455.60" r="1.32" fill="#009400" stroke="#004a00" stroke-width="0.35"/>
<circle cx="73.20" cy="459.80" r="1.32" fill="#009400" stroke="#004a00" stroke-width="0.35"/>
<circle cx="92.40" cy="424.50" r="1.32" fill="#e60000" stroke="#6a0000" stroke-width="0.35"/>
<circle cx="92.40" cy="432.20" r="1.32" fill="#009400" stroke="#004a00" stroke-width="0.35"/>
<circle cx="92.40" cy="440.40" r="1.32" fill="#0000e8" stroke="#00006a" stroke-width="0.35"/>
<circle cx="92.40" cy="444.30" r="1.32" fill="#0000e8" stroke="#00006a" stroke-width="0.35"/>
<circle cx="92.40" cy="456.00" r="1.32" fill="#e60000" stroke="#6a0000" stroke-width="0.35"/>
<circle cx="111.60" cy="416.30" r="1.32" fill="#0000e8" stroke="#00006a" stroke-width="0.35"/>
<circle cx="111.60" cy="420.50" r="1.32" fill="#e60000" stroke="#6a0000" stroke-width="0.35"/>
<circle cx="111.60" cy="436.40" r="1.32" fill="#0000e8" stroke="#00006a" stroke-width="0.35"/>
<circle cx="111.60" cy="440.40" r="1.32" fill="#e60000" stroke="#6a0000" stroke-width="0.35"/>
<circle cx="111.60" cy="452.30" r="1.32" fill="#0000e8" stroke="#00006a" stroke-width="0.35"/>
<circle cx="111.60" cy="459.80" r="1.32" fill="#009400" stroke="#004a00" stroke-width="0.35"/>
<circle cx="132.30" cy="396.80" r="1.32" fill="#e60000" stroke="#6a0000" stroke-width="0.35"/>
<circle cx="132.30" cy="436.50" r="1.32" fill="#e60000" stroke="#6a0000" stroke-width="0.35"/>
<circle cx="130.60" cy="459.90" r="1.32" fill="#0000e8" stroke="#00006a" stroke-width="0.35"/>
<circle cx="130.60" cy="464.40" r="1.32" fill="#009400" stroke="#004a00" stroke-width="0.35"/>
<circle cx="130.60" cy="468.20" r="1.32" fill="#009400" stroke="#004a00" stroke-width="0.35"/>
<circle cx="130.60" cy="475.90" r="1.32" fill="#0000e8" stroke="#00006a" stroke-width="0.35"/>
<circle cx="151.30" cy="416.30" r="1.32" fill="#0000e8" stroke="#00006a" stroke-width="0.35"/>
<circle cx="151.30" cy="420.50" r="1.32" fill="#e60000" stroke="#6a0000" stroke-width="0.35"/>
<circle cx="151.30" cy="448.30" r="1.32" fill="#e60000" stroke="#6a0000" stroke-width="0.35"/>
<circle cx="151.30" cy="468.00" r="1.32" fill="#009400" stroke="#004a00" stroke-width="0.35"/>
<circle cx="151.30" cy="472.10" r="1.32" fill="#009400" stroke="#004a00" stroke-width="0.35"/>
<circle cx="171.00" cy="388.90" r="1.32" fill="#e60000" stroke="#6a0000" stroke-width="0.35"/>
<circle cx="171.00" cy="404.40" r="1.32" fill="#e60000" stroke="#6a0000" stroke-width="0.35"/>
<circle cx="171.00" cy="420.50" r="1.32" fill="#e60000" stroke="#6a0000" stroke-width="0.35"/>
<circle cx="171.00" cy="428.50" r="1.32" fill="#e60000" stroke="#6a0000" stroke-width="0.35"/>
<circle cx="171.00" cy="436.40" r="1.32" fill="#009400" stroke="#004a00" stroke-width="0.35"/>
<circle cx="171.00" cy="444.30" r="1.32" fill="#009400" stroke="#004a00" stroke-width="0.35"/>
<circle cx="171.00" cy="448.30" r="1.32" fill="#0000e8" stroke="#00006a" stroke-width="0.35"/>
<circle cx="171.00" cy="452.30" r="1.32" fill="#009400" stroke="#004a00" stroke-width="0.35"/>
<circle cx="171.00" cy="456.20" r="1.32" fill="#009400" stroke="#004a00" stroke-width="0.35"/>
<circle cx="171.00" cy="495.50" r="1.32" fill="#0000e8" stroke="#00006a" stroke-width="0.35"/>
<rect x="57.2" y="459.3" width="42.5" height="17.3" fill="#f2e2ff" fill-opacity="0.25" stroke="#d4a8ff" stroke-width="0.8"/>
<text x="58.0" y="466.2" font-size="7.6" text-anchor="start" fill="#a020f0" stroke="#a020f0" stroke-width="0.18" textLength="41.43" lengthAdjust="spacingAndGlyphs">Mass-rearing</text>
<text x="58.0" y="474.8" font-size="7.6" text-anchor="start" fill="#a020f0" stroke="#a020f0" stroke-width="0.18" textLength="37.30" lengthAdjust="spacingAndGlyphs">diet = 0.814</text>
<line x1="250.00" y1="402.10" x2="368.30" y2="402.10" stroke="#acacff" stroke-width="0.90" stroke-dasharray="1.2,0.6"/>
<line x1="250.00" y1="406.90" x2="368.30" y2="406.90" stroke="#a8a8ff" stroke-width="1.25"/>
<line x1="250.00" y1="411.50" x2="368.30" y2="411.50" stroke="#acacff" stroke-width="0.90" stroke-dasharray="1.2,0.6"/>
<line x1="242.50" y1="476.30" x2="376.00" y2="476.30" stroke="#a845f2" stroke-width="1.10" stroke-dasharray="1.9,1.75"/>
<circle cx="250.00" cy="385.40" r="1.32" fill="#009400" stroke="#004a00" stroke-width="0.35"/>
<circle cx="250.00" cy="390.20" r="1.32" fill="#0000e8" stroke="#00006a" stroke-width="0.35"/>
<circle cx="250.00" cy="394.50" r="1.32" fill="#e60000" stroke="#6a0000" stroke-width="0.35"/>
<circle cx="250.00" cy="398.60" r="1.32" fill="#009400" stroke="#004a00" stroke-width="0.35"/>
<circle cx="250.00" cy="413.00" r="1.32" fill="#009400" stroke="#004a00" stroke-width="0.35"/>
<circle cx="250.00" cy="414.80" r="1.32" fill="#009400" stroke="#004a00" stroke-width="0.35"/>
<circle cx="250.00" cy="417.30" r="1.32" fill="#e60000" stroke="#6a0000" stroke-width="0.35"/>
<circle cx="250.00" cy="422.40" r="1.32" fill="#0000e8" stroke="#00006a" stroke-width="0.35"/>
<circle cx="250.00" cy="452.00" r="1.32" fill="#0000e8" stroke="#00006a" stroke-width="0.35"/>
<circle cx="270.50" cy="389.80" r="1.32" fill="#0000e8" stroke="#00006a" stroke-width="0.35"/>
<circle cx="270.50" cy="400.10" r="1.32" fill="#009400" stroke="#004a00" stroke-width="0.35"/>
<circle cx="270.50" cy="404.40" r="1.32" fill="#009400" stroke="#004a00" stroke-width="0.35"/>
<circle cx="270.50" cy="406.90" r="1.32" fill="#e60000" stroke="#6a0000" stroke-width="0.35"/>
<circle cx="270.50" cy="423.00" r="1.32" fill="#0000e8" stroke="#00006a" stroke-width="0.35"/>
<circle cx="289.40" cy="385.20" r="1.32" fill="#0000e8" stroke="#00006a" stroke-width="0.35"/>
<circle cx="290.20" cy="390.00" r="1.32" fill="#009400" stroke="#004a00" stroke-width="0.35"/>
<circle cx="288.60" cy="394.30" r="1.32" fill="#0000e8" stroke="#00006a" stroke-width="0.35"/>
<circle cx="290.50" cy="394.60" r="1.32" fill="#009400" stroke="#004a00" stroke-width="0.35"/>
<circle cx="289.40" cy="398.60" r="1.32" fill="#e60000" stroke="#6a0000" stroke-width="0.35"/>
<circle cx="309.30" cy="394.50" r="1.32" fill="#e60000" stroke="#6a0000" stroke-width="0.35"/>
<circle cx="309.30" cy="406.30" r="1.32" fill="#0000e8" stroke="#00006a" stroke-width="0.35"/>
<circle cx="309.30" cy="409.40" r="1.32" fill="#0000e8" stroke="#00006a" stroke-width="0.35"/>
<circle cx="309.30" cy="435.20" r="1.32" fill="#0000e8" stroke="#00006a" stroke-width="0.35"/>
<circle cx="309.30" cy="453.80" r="1.32" fill="#009400" stroke="#004a00" stroke-width="0.35"/>
<circle cx="329.30" cy="395.40" r="1.32" fill="#009400" stroke="#004a00" stroke-width="0.35"/>
<circle cx="329.30" cy="401.80" r="1.32" fill="#e60000" stroke="#6a0000" stroke-width="0.35"/>
<circle cx="329.30" cy="405.40" r="1.32" fill="#0000e8" stroke="#00006a" stroke-width="0.35"/>
<circle cx="329.30" cy="415.10" r="1.32" fill="#009400" stroke="#004a00" stroke-width="0.35"/>
<circle cx="329.30" cy="417.30" r="1.32" fill="#e60000" stroke="#6a0000" stroke-width="0.35"/>
<circle cx="349.20" cy="406.90" r="1.32" fill="#e60000" stroke="#6a0000" stroke-width="0.35"/>
<circle cx="349.20" cy="410.90" r="1.32" fill="#009400" stroke="#004a00" stroke-width="0.35"/>
<circle cx="349.20" cy="418.20" r="1.32" fill="#e60000" stroke="#6a0000" stroke-width="0.35"/>
<circle cx="349.20" cy="424.20" r="1.32" fill="#0000e8" stroke="#00006a" stroke-width="0.35"/>
<circle cx="349.20" cy="445.70" r="1.32" fill="#0000e8" stroke="#00006a" stroke-width="0.35"/>
<circle cx="349.20" cy="460.40" r="1.32" fill="#009400" stroke="#004a00" stroke-width="0.35"/>
<circle cx="368.30" cy="385.30" r="1.32" fill="#e60000" stroke="#6a0000" stroke-width="0.35"/>
<circle cx="368.30" cy="389.50" r="1.32" fill="#0000e8" stroke="#00006a" stroke-width="0.35"/>
<circle cx="368.30" cy="394.50" r="1.32" fill="#e60000" stroke="#6a0000" stroke-width="0.35"/>
<circle cx="368.30" cy="397.70" r="1.32" fill="#e60000" stroke="#6a0000" stroke-width="0.35"/>
<circle cx="368.30" cy="403.60" r="1.32" fill="#009400" stroke="#004a00" stroke-width="0.35"/>
<circle cx="368.30" cy="418.20" r="1.32" fill="#009400" stroke="#004a00" stroke-width="0.35"/>
<circle cx="368.30" cy="423.30" r="1.32" fill="#0000e8" stroke="#00006a" stroke-width="0.35"/>
<circle cx="368.30" cy="438.30" r="1.32" fill="#009400" stroke="#004a00" stroke-width="0.35"/>
<rect x="244.9" y="466.0" width="79.3" height="9.2" fill="#f2e2ff" fill-opacity="0.25" stroke="#d4a8ff" stroke-width="0.8"/>
<text x="246.0" y="473.3" font-size="7.6" text-anchor="start" fill="#a020f0" stroke="#a020f0" stroke-width="0.18" textLength="76.75" lengthAdjust="spacingAndGlyphs">Mass-rearing diet = 0.77</text>
<text x="55.50" y="325.80" font-size="6.0" text-anchor="middle" fill="#3c3c3c" stroke="#3c3c3c" stroke-width="0.1">2</text>
<text x="135.40" y="290.70" font-size="6.0" text-anchor="middle" fill="#3c3c3c" stroke="#3c3c3c" stroke-width="0.1">2</text>
<text x="173.00" y="247.00" font-size="6.0" text-anchor="middle" fill="#3c3c3c" stroke="#3c3c3c" stroke-width="0.1">2</text>
<text x="173.60" y="256.40" font-size="6.0" text-anchor="middle" fill="#3c3c3c" stroke="#3c3c3c" stroke-width="0.1">2</text>
<text x="253.50" y="289.40" font-size="6.0" text-anchor="middle" fill="#3c3c3c" stroke="#3c3c3c" stroke-width="0.1">2</text>
<text x="312.50" y="243.50" font-size="6.0" text-anchor="middle" fill="#3c3c3c" stroke="#3c3c3c" stroke-width="0.1">2</text>
<text x="54.30" y="427.70" font-size="6.0" text-anchor="middle" fill="#3c3c3c" stroke="#3c3c3c" stroke-width="0.1">2</text>
<text x="54.80" y="440.00" font-size="6.0" text-anchor="middle" fill="#3c3c3c" stroke="#3c3c3c" stroke-width="0.1">2</text>
<text x="54.80" y="447.80" font-size="6.0" text-anchor="middle" fill="#3c3c3c" stroke="#3c3c3c" stroke-width="0.1">2</text>
<text x="95.40" y="433.20" font-size="6.0" text-anchor="middle" fill="#3c3c3c" stroke="#3c3c3c" stroke-width="0.1">2</text>
<text x="115.00" y="419.60" font-size="6.0" text-anchor="middle" fill="#3c3c3c" stroke="#3c3c3c" stroke-width="0.1">2</text>
<text x="154.30" y="416.80" font-size="6.0" text-anchor="middle" fill="#3c3c3c" stroke="#3c3c3c" stroke-width="0.1">2</text>
<text x="173.50" y="403.90" font-size="6.0" text-anchor="middle" fill="#3c3c3c" stroke="#3c3c3c" stroke-width="0.1">3</text>
<text x="114.60" y="458.80" font-size="6.0" text-anchor="middle" fill="#3c3c3c" stroke="#3c3c3c" stroke-width="0.1">2</text>
<text x="252.30" y="393.70" font-size="6.0" text-anchor="middle" fill="#3c3c3c" stroke="#3c3c3c" stroke-width="0.1">2</text>
<text x="273.00" y="405.40" font-size="6.0" text-anchor="middle" fill="#3c3c3c" stroke="#3c3c3c" stroke-width="0.1">2</text>
<text x="292.30" y="391.00" font-size="6.0" text-anchor="middle" fill="#3c3c3c" stroke="#3c3c3c" stroke-width="0.1">2</text>
<text x="311.60" y="393.00" font-size="6.0" text-anchor="middle" fill="#3c3c3c" stroke="#3c3c3c" stroke-width="0.1">3</text>
<text x="311.80" y="406.80" font-size="6.0" text-anchor="middle" fill="#3c3c3c" stroke="#3c3c3c" stroke-width="0.1">2</text>
<text x="370.60" y="383.60" font-size="6.0" text-anchor="middle" fill="#3c3c3c" stroke="#3c3c3c" stroke-width="0.1">3</text>
<text x="370.80" y="394.50" font-size="6.0" text-anchor="middle" fill="#3c3c3c" stroke="#3c3c3c" stroke-width="0.1">2</text>
<rect x="44.8" y="23.4" width="133.7" height="133.9" fill="none" stroke="#a2a2a2" stroke-width="1.15"/>
<line x1="52.1" y1="157.3" x2="52.1" y2="160.8" stroke="#a2a2a2" stroke-width="1"/>
<text x="50.5" y="170.2" font-size="8.0" text-anchor="middle" fill="#1e1e1e" stroke="#1e1e1e" stroke-width="0.3">0.17</text>
<line x1="81.6" y1="157.3" x2="81.6" y2="160.8" stroke="#a2a2a2" stroke-width="1"/>
<text x="80.0" y="170.2" font-size="8.0" text-anchor="middle" fill="#1e1e1e" stroke="#1e1e1e" stroke-width="0.3">0.50</text>
<line x1="111.1" y1="157.3" x2="111.1" y2="160.8" stroke="#a2a2a2" stroke-width="1"/>
<text x="109.5" y="170.2" font-size="8.0" text-anchor="middle" fill="#1e1e1e" stroke="#1e1e1e" stroke-width="0.3">0.83</text>
<line x1="140.6" y1="157.3" x2="140.6" y2="160.8" stroke="#a2a2a2" stroke-width="1"/>
<text x="139.0" y="170.2" font-size="8.0" text-anchor="middle" fill="#1e1e1e" stroke="#1e1e1e" stroke-width="0.3">1.17</text>
<line x1="170.1" y1="157.3" x2="170.1" y2="160.8" stroke="#a2a2a2" stroke-width="1"/>
<text x="168.5" y="170.2" font-size="8.0" text-anchor="middle" fill="#1e1e1e" stroke="#1e1e1e" stroke-width="0.3">1.50</text>
<line x1="41.0" y1="149.4" x2="44.8" y2="149.4" stroke="#a2a2a2" stroke-width="1"/>
<text x="35.4" y="152.2" font-size="8.0" text-anchor="end" fill="#1e1e1e" stroke="#1e1e1e" stroke-width="0.3">0</text>
<line x1="41.0" y1="125.8" x2="44.8" y2="125.8" stroke="#a2a2a2" stroke-width="1"/>
<text x="35.4" y="128.6" font-size="8.0" text-anchor="end" fill="#1e1e1e" stroke="#1e1e1e" stroke-width="0.3">0.14</text>
<line x1="41.0" y1="102.2" x2="44.8" y2="102.2" stroke="#a2a2a2" stroke-width="1"/>
<text x="35.4" y="105.0" font-size="8.0" text-anchor="end" fill="#1e1e1e" stroke="#1e1e1e" stroke-width="0.3">0.28</text>
<line x1="41.0" y1="78.5" x2="44.8" y2="78.5" stroke="#a2a2a2" stroke-width="1"/>
<text x="35.4" y="81.4" font-size="8.0" text-anchor="end" fill="#1e1e1e" stroke="#1e1e1e" stroke-width="0.3">0.42</text>
<line x1="41.0" y1="54.9" x2="44.8" y2="54.9" stroke="#a2a2a2" stroke-width="1"/>
<text x="35.4" y="57.8" font-size="8.0" text-anchor="end" fill="#1e1e1e" stroke="#1e1e1e" stroke-width="0.3">0.56</text>
<line x1="41.0" y1="31.3" x2="44.8" y2="31.3" stroke="#a2a2a2" stroke-width="1"/>
<text x="35.4" y="34.2" font-size="8.0" text-anchor="end" fill="#1e1e1e" stroke="#1e1e1e" stroke-width="0.3">0.7</text>
<text transform="translate(15.7 90.6) rotate(-90)" font-size="9.9" text-anchor="middle" fill="#1e1e1e" stroke="#1e1e1e" stroke-width="0.2">Gel cost for 1 kg of diet (US$)</text>
<text x="11.3" y="14.8" font-size="9.8" font-weight="bold" fill="#111" stroke="#111" stroke-width="0.25" textLength="13.5" lengthAdjust="spacingAndGlyphs">(a)</text>
<rect x="242.5" y="23.2" width="133.5" height="133.8" fill="none" stroke="#a2a2a2" stroke-width="1.15"/>
<line x1="250.4" y1="157.0" x2="250.4" y2="160.5" stroke="#a2a2a2" stroke-width="1"/>
<text x="248.8" y="169.9" font-size="8.0" text-anchor="middle" fill="#1e1e1e" stroke="#1e1e1e" stroke-width="0.3">0.17</text>
<line x1="279.9" y1="157.0" x2="279.9" y2="160.5" stroke="#a2a2a2" stroke-width="1"/>
<text x="278.3" y="169.9" font-size="8.0" text-anchor="middle" fill="#1e1e1e" stroke="#1e1e1e" stroke-width="0.3">0.50</text>
<line x1="309.4" y1="157.0" x2="309.4" y2="160.5" stroke="#a2a2a2" stroke-width="1"/>
<text x="307.8" y="169.9" font-size="8.0" text-anchor="middle" fill="#1e1e1e" stroke="#1e1e1e" stroke-width="0.3">0.83</text>
<line x1="338.9" y1="157.0" x2="338.9" y2="160.5" stroke="#a2a2a2" stroke-width="1"/>
<text x="337.3" y="169.9" font-size="8.0" text-anchor="middle" fill="#1e1e1e" stroke="#1e1e1e" stroke-width="0.3">1.17</text>
<line x1="368.4" y1="157.0" x2="368.4" y2="160.5" stroke="#a2a2a2" stroke-width="1"/>
<text x="366.8" y="169.9" font-size="8.0" text-anchor="middle" fill="#1e1e1e" stroke="#1e1e1e" stroke-width="0.3">1.50</text>
<line x1="238.7" y1="149.2" x2="242.5" y2="149.2" stroke="#a2a2a2" stroke-width="1"/>
<text x="233.1" y="152.0" font-size="8.0" text-anchor="end" fill="#1e1e1e" stroke="#1e1e1e" stroke-width="0.3">25</text>
<line x1="238.7" y1="125.5" x2="242.5" y2="125.5" stroke="#a2a2a2" stroke-width="1"/>
<text x="233.1" y="128.3" font-size="8.0" text-anchor="end" fill="#1e1e1e" stroke="#1e1e1e" stroke-width="0.3">32</text>
<line x1="238.7" y1="101.8" x2="242.5" y2="101.8" stroke="#a2a2a2" stroke-width="1"/>
<text x="233.1" y="104.6" font-size="8.0" text-anchor="end" fill="#1e1e1e" stroke="#1e1e1e" stroke-width="0.3">39</text>
<line x1="238.7" y1="78.1" x2="242.5" y2="78.1" stroke="#a2a2a2" stroke-width="1"/>
<text x="233.1" y="80.9" font-size="8.0" text-anchor="end" fill="#1e1e1e" stroke="#1e1e1e" stroke-width="0.3">46</text>
<line x1="238.7" y1="54.4" x2="242.5" y2="54.4" stroke="#a2a2a2" stroke-width="1"/>
<text x="233.1" y="57.3" font-size="8.0" text-anchor="end" fill="#1e1e1e" stroke="#1e1e1e" stroke-width="0.3">53</text>
<line x1="238.7" y1="30.7" x2="242.5" y2="30.7" stroke="#a2a2a2" stroke-width="1"/>
<text x="233.1" y="33.6" font-size="8.0" text-anchor="end" fill="#1e1e1e" stroke="#1e1e1e" stroke-width="0.3">60</text>
<text transform="translate(221.0 88.8) rotate(-90)" font-size="9.9" text-anchor="middle" fill="#1e1e1e" stroke="#1e1e1e" stroke-width="0.2">Time to pupation (h)</text>
<text x="209.8" y="14.7" font-size="9.8" font-weight="bold" fill="#111" stroke="#111" stroke-width="0.25" textLength="13.6" lengthAdjust="spacingAndGlyphs">(b)</text>
<rect x="44.8" y="199.5" width="133.7" height="133.5" fill="none" stroke="#a2a2a2" stroke-width="1.15"/>
<line x1="52.4" y1="333.0" x2="52.4" y2="336.5" stroke="#a2a2a2" stroke-width="1"/>
<text x="50.8" y="345.9" font-size="8.0" text-anchor="middle" fill="#1e1e1e" stroke="#1e1e1e" stroke-width="0.3">0.17</text>
<line x1="81.9" y1="333.0" x2="81.9" y2="336.5" stroke="#a2a2a2" stroke-width="1"/>
<text x="80.3" y="345.9" font-size="8.0" text-anchor="middle" fill="#1e1e1e" stroke="#1e1e1e" stroke-width="0.3">0.50</text>
<line x1="111.4" y1="333.0" x2="111.4" y2="336.5" stroke="#a2a2a2" stroke-width="1"/>
<text x="109.8" y="345.9" font-size="8.0" text-anchor="middle" fill="#1e1e1e" stroke="#1e1e1e" stroke-width="0.3">0.83</text>
<line x1="140.9" y1="333.0" x2="140.9" y2="336.5" stroke="#a2a2a2" stroke-width="1"/>
<text x="139.3" y="345.9" font-size="8.0" text-anchor="middle" fill="#1e1e1e" stroke="#1e1e1e" stroke-width="0.3">1.17</text>
<line x1="170.5" y1="333.0" x2="170.5" y2="336.5" stroke="#a2a2a2" stroke-width="1"/>
<text x="168.9" y="345.9" font-size="8.0" text-anchor="middle" fill="#1e1e1e" stroke="#1e1e1e" stroke-width="0.3">1.50</text>
<line x1="41.0" y1="325.5" x2="44.8" y2="325.5" stroke="#a2a2a2" stroke-width="1"/>
<text x="35.4" y="328.4" font-size="8.0" text-anchor="end" fill="#1e1e1e" stroke="#1e1e1e" stroke-width="0.3">0</text>
<line x1="41.0" y1="295.9" x2="44.8" y2="295.9" stroke="#a2a2a2" stroke-width="1"/>
<text x="35.4" y="298.8" font-size="8.0" text-anchor="end" fill="#1e1e1e" stroke="#1e1e1e" stroke-width="0.3">350</text>
<line x1="41.0" y1="266.4" x2="44.8" y2="266.4" stroke="#a2a2a2" stroke-width="1"/>
<text x="35.4" y="269.2" font-size="8.0" text-anchor="end" fill="#1e1e1e" stroke="#1e1e1e" stroke-width="0.3">700</text>
<line x1="41.0" y1="236.8" x2="44.8" y2="236.8" stroke="#a2a2a2" stroke-width="1"/>
<text x="35.4" y="239.6" font-size="8.0" text-anchor="end" fill="#1e1e1e" stroke="#1e1e1e" stroke-width="0.3">1050</text>
<line x1="41.0" y1="207.2" x2="44.8" y2="207.2" stroke="#a2a2a2" stroke-width="1"/>
<text x="35.4" y="210.0" font-size="8.0" text-anchor="end" fill="#1e1e1e" stroke="#1e1e1e" stroke-width="0.3">1400</text>
<text transform="translate(15.8 266.5) rotate(-90)" font-size="9.9" text-anchor="middle" fill="#1e1e1e" stroke="#1e1e1e" stroke-width="0.2">Number of pupae recovered</text>
<text x="12.4" y="189.7" font-size="9.8" font-weight="bold" fill="#111" stroke="#111" stroke-width="0.25" textLength="13.5" lengthAdjust="spacingAndGlyphs">(c)</text>
<rect x="242.5" y="199.5" width="133.5" height="133.5" fill="none" stroke="#a2a2a2" stroke-width="1.15"/>
<line x1="250.4" y1="333.0" x2="250.4" y2="336.5" stroke="#a2a2a2" stroke-width="1"/>
<text x="248.8" y="345.9" font-size="8.0" text-anchor="middle" fill="#1e1e1e" stroke="#1e1e1e" stroke-width="0.3">0.17</text>
<line x1="279.9" y1="333.0" x2="279.9" y2="336.5" stroke="#a2a2a2" stroke-width="1"/>
<text x="278.3" y="345.9" font-size="8.0" text-anchor="middle" fill="#1e1e1e" stroke="#1e1e1e" stroke-width="0.3">0.50</text>
<line x1="309.4" y1="333.0" x2="309.4" y2="336.5" stroke="#a2a2a2" stroke-width="1"/>
<text x="307.8" y="345.9" font-size="8.0" text-anchor="middle" fill="#1e1e1e" stroke="#1e1e1e" stroke-width="0.3">0.83</text>
<line x1="338.9" y1="333.0" x2="338.9" y2="336.5" stroke="#a2a2a2" stroke-width="1"/>
<text x="337.3" y="345.9" font-size="8.0" text-anchor="middle" fill="#1e1e1e" stroke="#1e1e1e" stroke-width="0.3">1.17</text>
<line x1="368.4" y1="333.0" x2="368.4" y2="336.5" stroke="#a2a2a2" stroke-width="1"/>
<text x="366.8" y="345.9" font-size="8.0" text-anchor="middle" fill="#1e1e1e" stroke="#1e1e1e" stroke-width="0.3">1.50</text>
<line x1="238.7" y1="325.5" x2="242.5" y2="325.5" stroke="#a2a2a2" stroke-width="1"/>
<text x="233.1" y="328.4" font-size="8.0" text-anchor="end" fill="#1e1e1e" stroke="#1e1e1e" stroke-width="0.3">8</text>
<line x1="238.7" y1="295.9" x2="242.5" y2="295.9" stroke="#a2a2a2" stroke-width="1"/>
<text x="233.1" y="298.8" font-size="8.0" text-anchor="end" fill="#1e1e1e" stroke="#1e1e1e" stroke-width="0.3">10</text>
<line x1="238.7" y1="266.4" x2="242.5" y2="266.4" stroke="#a2a2a2" stroke-width="1"/>
<text x="233.1" y="269.2" font-size="8.0" text-anchor="end" fill="#1e1e1e" stroke="#1e1e1e" stroke-width="0.3">12</text>
<line x1="238.7" y1="236.8" x2="242.5" y2="236.8" stroke="#a2a2a2" stroke-width="1"/>
<text x="233.1" y="239.6" font-size="8.0" text-anchor="end" fill="#1e1e1e" stroke="#1e1e1e" stroke-width="0.3">14</text>
<line x1="238.7" y1="207.2" x2="242.5" y2="207.2" stroke="#a2a2a2" stroke-width="1"/>
<text x="233.1" y="210.0" font-size="8.0" text-anchor="end" fill="#1e1e1e" stroke="#1e1e1e" stroke-width="0.3">16</text>
<text transform="translate(220.8 262.9) rotate(-90)" font-size="9.9" text-anchor="middle" fill="#1e1e1e" stroke="#1e1e1e" stroke-width="0.2">Pupal weight (mg)</text>
<text x="209.8" y="189.4" font-size="9.8" font-weight="bold" fill="#111" stroke="#111" stroke-width="0.25" textLength="13.9" lengthAdjust="spacingAndGlyphs">(d)</text>
<rect x="44.8" y="377.6" width="133.7" height="133.7" fill="none" stroke="#a2a2a2" stroke-width="1.15"/>
<line x1="52.4" y1="511.3" x2="52.4" y2="514.8" stroke="#a2a2a2" stroke-width="1"/>
<text x="50.8" y="524.2" font-size="8.0" text-anchor="middle" fill="#1e1e1e" stroke="#1e1e1e" stroke-width="0.3">0.17</text>
<line x1="81.9" y1="511.3" x2="81.9" y2="514.8" stroke="#a2a2a2" stroke-width="1"/>
<text x="80.3" y="524.2" font-size="8.0" text-anchor="middle" fill="#1e1e1e" stroke="#1e1e1e" stroke-width="0.3">0.50</text>
<line x1="111.4" y1="511.3" x2="111.4" y2="514.8" stroke="#a2a2a2" stroke-width="1"/>
<text x="109.8" y="524.2" font-size="8.0" text-anchor="middle" fill="#1e1e1e" stroke="#1e1e1e" stroke-width="0.3">0.83</text>
<line x1="140.9" y1="511.3" x2="140.9" y2="514.8" stroke="#a2a2a2" stroke-width="1"/>
<text x="139.3" y="524.2" font-size="8.0" text-anchor="middle" fill="#1e1e1e" stroke="#1e1e1e" stroke-width="0.3">1.17</text>
<line x1="170.5" y1="511.3" x2="170.5" y2="514.8" stroke="#a2a2a2" stroke-width="1"/>
<text x="168.9" y="524.2" font-size="8.0" text-anchor="middle" fill="#1e1e1e" stroke="#1e1e1e" stroke-width="0.3">1.50</text>
<line x1="41.0" y1="503.6" x2="44.8" y2="503.6" stroke="#a2a2a2" stroke-width="1"/>
<text x="35.4" y="506.5" font-size="8.0" text-anchor="end" fill="#1e1e1e" stroke="#1e1e1e" stroke-width="0.3">0.7</text>
<line x1="41.0" y1="464.2" x2="44.8" y2="464.2" stroke="#a2a2a2" stroke-width="1"/>
<text x="35.4" y="467.0" font-size="8.0" text-anchor="end" fill="#1e1e1e" stroke="#1e1e1e" stroke-width="0.3">0.8</text>
<line x1="41.0" y1="424.7" x2="44.8" y2="424.7" stroke="#a2a2a2" stroke-width="1"/>
<text x="35.4" y="427.6" font-size="8.0" text-anchor="end" fill="#1e1e1e" stroke="#1e1e1e" stroke-width="0.3">0.9</text>
<line x1="41.0" y1="385.3" x2="44.8" y2="385.3" stroke="#a2a2a2" stroke-width="1"/>
<text x="35.4" y="388.2" font-size="8.0" text-anchor="end" fill="#1e1e1e" stroke="#1e1e1e" stroke-width="0.3">1</text>
<text transform="translate(20.5 446.1) rotate(-90)" font-size="9.9" text-anchor="middle" fill="#1e1e1e" stroke="#1e1e1e" stroke-width="0.2">Adult emergence (proportion)</text>
<text x="11.9" y="369.0" font-size="9.8" font-weight="bold" fill="#111" stroke="#111" stroke-width="0.25" textLength="13.5" lengthAdjust="spacingAndGlyphs">(e)</text>
<rect x="242.5" y="377.9" width="133.5" height="133.7" fill="none" stroke="#a2a2a2" stroke-width="1.15"/>
<line x1="250.4" y1="511.6" x2="250.4" y2="515.1" stroke="#a2a2a2" stroke-width="1"/>
<text x="248.8" y="524.5" font-size="8.0" text-anchor="middle" fill="#1e1e1e" stroke="#1e1e1e" stroke-width="0.3">0.17</text>
<line x1="279.9" y1="511.6" x2="279.9" y2="515.1" stroke="#a2a2a2" stroke-width="1"/>
<text x="278.3" y="524.5" font-size="8.0" text-anchor="middle" fill="#1e1e1e" stroke="#1e1e1e" stroke-width="0.3">0.50</text>
<line x1="309.4" y1="511.6" x2="309.4" y2="515.1" stroke="#a2a2a2" stroke-width="1"/>
<text x="307.8" y="524.5" font-size="8.0" text-anchor="middle" fill="#1e1e1e" stroke="#1e1e1e" stroke-width="0.3">0.83</text>
<line x1="338.9" y1="511.6" x2="338.9" y2="515.1" stroke="#a2a2a2" stroke-width="1"/>
<text x="337.3" y="524.5" font-size="8.0" text-anchor="middle" fill="#1e1e1e" stroke="#1e1e1e" stroke-width="0.3">1.17</text>
<line x1="368.4" y1="511.6" x2="368.4" y2="515.1" stroke="#a2a2a2" stroke-width="1"/>
<text x="366.8" y="524.5" font-size="8.0" text-anchor="middle" fill="#1e1e1e" stroke="#1e1e1e" stroke-width="0.3">1.50</text>
<line x1="238.7" y1="503.6" x2="242.5" y2="503.6" stroke="#a2a2a2" stroke-width="1"/>
<text x="233.1" y="506.5" font-size="8.0" text-anchor="end" fill="#1e1e1e" stroke="#1e1e1e" stroke-width="0.3">0.7</text>
<line x1="238.7" y1="464.2" x2="242.5" y2="464.2" stroke="#a2a2a2" stroke-width="1"/>
<text x="233.1" y="467.0" font-size="8.0" text-anchor="end" fill="#1e1e1e" stroke="#1e1e1e" stroke-width="0.3">0.8</text>
<line x1="238.7" y1="424.7" x2="242.5" y2="424.7" stroke="#a2a2a2" stroke-width="1"/>
<text x="233.1" y="427.6" font-size="8.0" text-anchor="end" fill="#1e1e1e" stroke="#1e1e1e" stroke-width="0.3">0.9</text>
<line x1="238.7" y1="385.3" x2="242.5" y2="385.3" stroke="#a2a2a2" stroke-width="1"/>
<text x="233.1" y="388.2" font-size="8.0" text-anchor="end" fill="#1e1e1e" stroke="#1e1e1e" stroke-width="0.3">1</text>
<text transform="translate(218.5 441.3) rotate(-90)" font-size="9.9" text-anchor="middle" fill="#1e1e1e" stroke="#1e1e1e" stroke-width="0.2">Fliers (proportion)</text>
<text x="209.8" y="369.0" font-size="9.8" font-weight="bold" fill="#111" stroke="#111" stroke-width="0.25" textLength="11.0" lengthAdjust="spacingAndGlyphs">(f)</text>
<text x="110.9" y="542.7" font-size="10.0" text-anchor="middle" fill="#1e1e1e" stroke="#1e1e1e" stroke-width="0.18">% of gelling agent in diet (w/w)</text>
<text x="310.4" y="542.7" font-size="10.0" text-anchor="middle" fill="#1e1e1e" stroke="#1e1e1e" stroke-width="0.18">% of gelling agent in diet (w/w)</text>
</svg></body></html>
